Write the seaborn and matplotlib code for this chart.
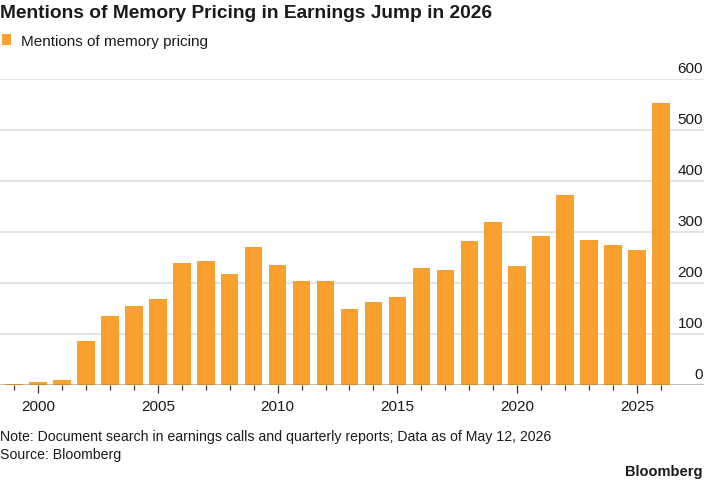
import matplotlib

matplotlib.use("Agg")
import matplotlib.pyplot as plt
import matplotlib.transforms as mtransforms
import pandas as pd
import seaborn as sns
from matplotlib.patches import Patch
from matplotlib.ticker import FixedLocator

# values
YEARS = list(range(1999, 2027))
MENTIONS = [1, 6, 9, 87, 136, 155, 168, 239, 243, 218, 271, 235, 204, 204, 150,
            163, 172, 229, 226, 283, 319, 233, 292, 372, 285, 274, 264, 553]
Y_TICKS = [0, 100, 200, 300, 400, 500, 600]
X_MAJOR = [2000, 2005, 2010, 2015, 2020, 2025]

TITLE = "Mentions of Memory Pricing in Earnings Jump in 2026"
SERIES = "Mentions of memory pricing"
NOTE = "Note: Document search in earnings calls and quarterly reports; Data as of May 12, 2026"
SOURCE = "Source: Bloomberg"

ORANGE = "#F9A12E"
TEXT = "#1a1a1a"

sns.set_theme(style="white")
plt.rcParams["font.family"] = ["Liberation Sans", "DejaVu Sans"]

df = pd.DataFrame({"year": YEARS, "mentions": MENTIONS})

W, H = 704, 481
fig = plt.figure(figsize=(W / 100, H / 100), dpi=100)
ax = fig.add_axes([0, 1 - 386 / H, 1.0, (386 - 80) / H])

sns.barplot(data=df, x="year", y="mentions", native_scale=True, width=0.73,
            color=ORANGE, saturation=1, errorbar=None, linewidth=0, ax=ax, zorder=2)

ax.set_xlim(1998.41, 2027.8)
ax.set_ylim(0, 600)
ax.set_xlabel("")
ax.set_ylabel("")
for s in ax.spines.values():
    s.set_visible(False)

ax.yaxis.grid(True, color="#dedede", linewidth=1.2)
ax.xaxis.grid(False)
ax.set_axisbelow(True)
ax.axhline(0, color="#333333", linewidth=1.0, zorder=3)

# value labels sit on the right, just above each gridline
ax.yaxis.tick_right()
ax.set_yticks(Y_TICKS)
ax.set_yticklabels([str(v) for v in Y_TICKS])
ax.tick_params(axis="y", length=0, pad=0, labelsize=11, labelcolor=TEXT)
shift = mtransforms.ScaledTranslation(-1 / 100, 11 / 100, fig.dpi_scale_trans)
for lbl in ax.get_yticklabels():
    lbl.set_horizontalalignment("right")
    lbl.set_verticalalignment("center")
    lbl.set_transform(lbl.get_transform() + shift)

ax.set_xticks(X_MAJOR)
ax.set_xticklabels([str(y) for y in X_MAJOR])
ax.xaxis.set_minor_locator(FixedLocator(YEARS))
ax.tick_params(axis="x", which="major", direction="out", length=6, width=0.9,
               color="#333333", labelsize=11, labelcolor=TEXT, pad=4, bottom=True)
ax.tick_params(axis="x", which="minor", direction="out", length=3.5, width=0.9,
               color="#333333", bottom=True)

fig.text(0.0, 1 - 13 / H, TITLE, fontsize=13.8, fontweight="bold", color=TEXT,
         ha="left", va="center")
fig.legend(handles=[Patch(facecolor=ORANGE, edgecolor="none")], labels=[SERIES],
           loc="center left", bbox_to_anchor=(0.003, 1 - 42 / H), frameon=False,
           handlelength=0.55, handleheight=0.75, handletextpad=0.7,
           borderaxespad=0, borderpad=0, fontsize=11, labelcolor=TEXT)

fig.text(0.0, 1 - 437 / H, NOTE, fontsize=10.2, color=TEXT, ha="left", va="center")
fig.text(0.0, 1 - 455 / H, SOURCE, fontsize=10.2, color=TEXT, ha="left", va="center")
fig.text(1.0 - 1 / W, 1 - 472 / H, "Bloomberg", fontsize=10.5, fontweight="bold",
         color=TEXT, ha="right", va="center")

fig.savefig("out.png", dpi=100)
plt.close(fig)
